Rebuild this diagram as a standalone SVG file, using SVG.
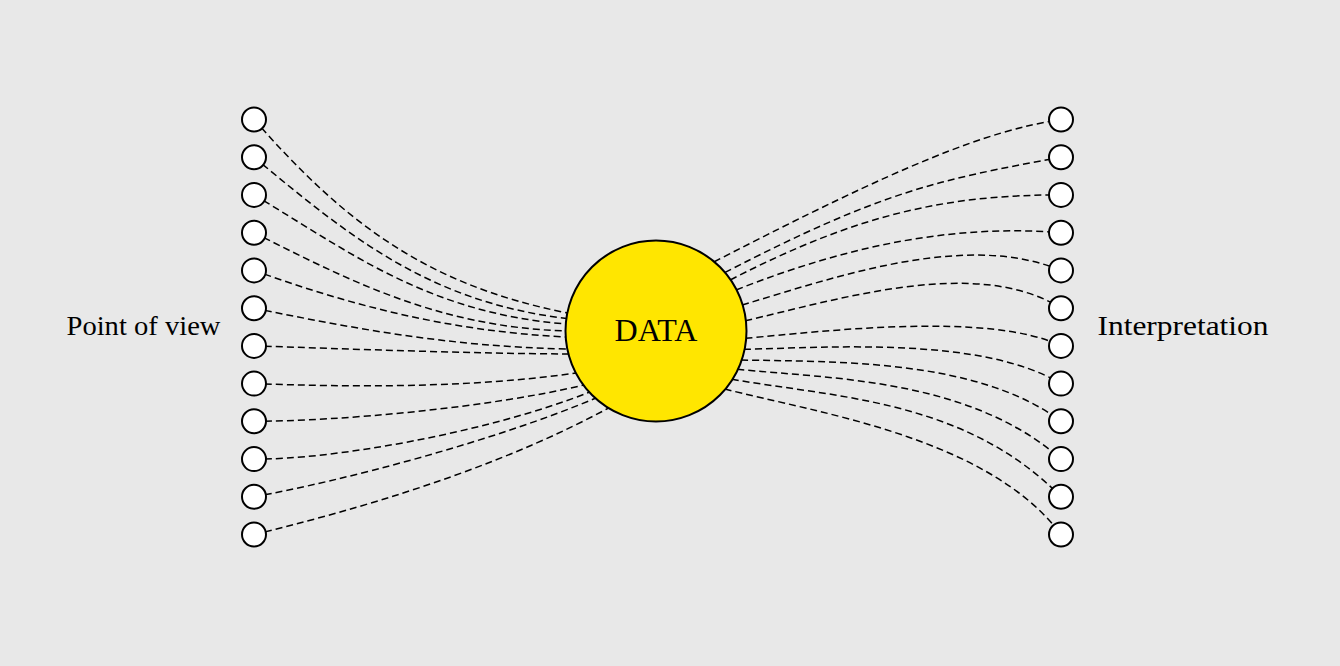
<svg xmlns="http://www.w3.org/2000/svg" width="1340" height="666" viewBox="0 0 1340 666">
<style>
.bg{fill:#e8e8e8}
.link{fill:none;stroke:#000;stroke-width:1.5;stroke-dasharray:7 4}
.node{fill:#fff;stroke:#000;stroke-width:2}
.hub{fill:#ffe600;stroke:#000;stroke-width:2}
.lbl{font-family:"Liberation Serif","Times New Roman",serif;fill:#000}
</style>
<rect class="bg" x="0" y="0" width="1340" height="666"/>
<g id="connectors">
<path class="link" d="M254,119.5 C340,217 420.6,284 567.6,313"/>
<path class="link" d="M254,157.2 C346.4,234 428.2,302.2 566.8,318.5"/>
<path class="link" d="M254,194.9 C348.6,251 426.3,312.8 566.3,324"/>
<path class="link" d="M254,232.7 C344,277.6 436,327.1 566,331"/>
<path class="link" d="M254,270.4 C348,304.3 446.2,331 566.2,337"/>
<path class="link" d="M254,308.2 C352,328 447.8,346.6 567.8,349"/>
<path class="link" d="M254,345.9 C350,349 470,353.5 569,354"/>
<path class="link" d="M254,383.6 C350,387 467.5,388.4 576.4,373"/>
<path class="link" d="M254,421.3 C340,421 487,408 584,385"/>
<path class="link" d="M254,459.1 C330,460 487.5,432.7 589.8,392"/>
<path class="link" d="M254,496.8 C342,481 494.7,440.9 595.9,398"/>
<path class="link" d="M254,534.5 C398.7,499.6 517,457.5 608.6,408"/>
<path class="link" d="M713.8,262 C901.5,165 986.8,130.7 1061,119.5"/>
<path class="link" d="M724.6,272.7 C881.9,191.4 936.7,180.1 1061,157.2"/>
<path class="link" d="M730.2,280 C857.1,214.4 945.9,194.9 1061,194.9"/>
<path class="link" d="M736.1,290 C854.8,242.8 959.6,224.5 1061,232.7"/>
<path class="link" d="M742.2,305 C844.4,274.1 968,232 1061,270.4"/>
<path class="link" d="M745.4,320.7 C833.8,300.7 977,255 1061,308.2"/>
<path class="link" d="M745.7,338.3 C820.7,331.5 990.4,311.2 1061,345.9"/>
<path class="link" d="M744.1,349.3 C830.6,347.6 981.1,336.1 1061,383.6"/>
<path class="link" d="M741.2,360 C834.9,361.9 977.6,358.6 1061,421.3"/>
<path class="link" d="M737.4,369.3 C831,378.7 969.5,378.4 1061,459.1"/>
<path class="link" d="M731.9,379.3 C836.7,397.4 965.7,399.9 1061,496.8"/>
<path class="link" d="M724.8,389 C816.6,412.7 988.2,437.3 1061,534.5"/>
</g>
<g id="hub">
<circle class="hub" cx="656" cy="331" r="90.5"/>
<text class="lbl" x="656" y="340.5" font-size="31" text-anchor="middle" textLength="83" lengthAdjust="spacingAndGlyphs">DATA</text>
</g>
<g id="left-label"><text class="lbl" x="66.5" y="335" font-size="27" textLength="154" lengthAdjust="spacingAndGlyphs">Point of view</text></g>
<g id="right-label"><text class="lbl" x="1097.5" y="335" font-size="27" textLength="171" lengthAdjust="spacingAndGlyphs">Interpretation</text></g>
<g id="left-nodes">
<circle id="l1" class="node" cx="254" cy="119.5" r="12"/>
<circle id="l2" class="node" cx="254" cy="157.2" r="12"/>
<circle id="l3" class="node" cx="254" cy="194.9" r="12"/>
<circle id="l4" class="node" cx="254" cy="232.7" r="12"/>
<circle id="l5" class="node" cx="254" cy="270.4" r="12"/>
<circle id="l6" class="node" cx="254" cy="308.2" r="12"/>
<circle id="l7" class="node" cx="254" cy="345.9" r="12"/>
<circle id="l8" class="node" cx="254" cy="383.6" r="12"/>
<circle id="l9" class="node" cx="254" cy="421.3" r="12"/>
<circle id="l10" class="node" cx="254" cy="459.1" r="12"/>
<circle id="l11" class="node" cx="254" cy="496.8" r="12"/>
<circle id="l12" class="node" cx="254" cy="534.5" r="12"/>
</g>
<g id="right-nodes">
<circle id="r1" class="node" cx="1061" cy="119.5" r="12"/>
<circle id="r2" class="node" cx="1061" cy="157.2" r="12"/>
<circle id="r3" class="node" cx="1061" cy="194.9" r="12"/>
<circle id="r4" class="node" cx="1061" cy="232.7" r="12"/>
<circle id="r5" class="node" cx="1061" cy="270.4" r="12"/>
<circle id="r6" class="node" cx="1061" cy="308.2" r="12"/>
<circle id="r7" class="node" cx="1061" cy="345.9" r="12"/>
<circle id="r8" class="node" cx="1061" cy="383.6" r="12"/>
<circle id="r9" class="node" cx="1061" cy="421.3" r="12"/>
<circle id="r10" class="node" cx="1061" cy="459.1" r="12"/>
<circle id="r11" class="node" cx="1061" cy="496.8" r="12"/>
<circle id="r12" class="node" cx="1061" cy="534.5" r="12"/>
</g>
</svg>
